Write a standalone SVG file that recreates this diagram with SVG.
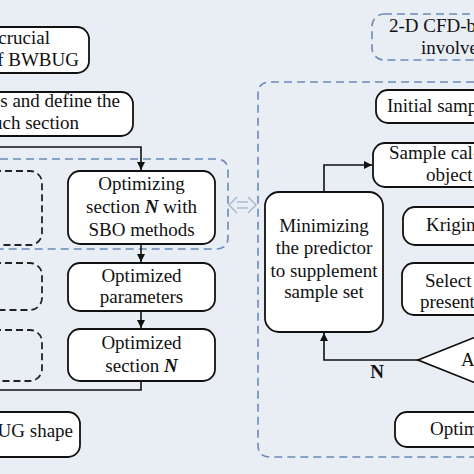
<svg xmlns="http://www.w3.org/2000/svg" width="474" height="474" viewBox="0 0 474 474">
<defs>
<style>
.bg{fill:#e9eef5}
.box{fill:#ffffff;stroke:#111;stroke-width:1.8}
.dbox{fill:none;stroke:#222;stroke-width:1.8;stroke-dasharray:7 4}
.blue{fill:none;stroke:#6a8bb8;stroke-width:1.6;stroke-dasharray:8 5}
.t{font-family:"Liberation Serif","Times New Roman",serif;font-size:19px;fill:#111}
.c{text-anchor:middle}
.e{text-anchor:end}
.line{fill:none;stroke:#111;stroke-width:1.6}
</style>
<marker id="ah" viewBox="0 0 10 10" refX="10" refY="5" markerWidth="8" markerHeight="8" markerUnits="userSpaceOnUse" orient="auto">
<path d="M0,0 L10,5 L0,10 z" fill="#111"/>
</marker>
</defs>
<rect class="bg" x="0" y="0" width="474" height="474"/>

<g id="groups">
<path class="blue" d="M0,159 H216 Q228,159 228,171 V237 Q228,249 216,249 H0"/>
<path class="blue" d="M474,82 H270 Q258,82 258,94 V445 Q258,457 270,457 H474"/>
<rect class="blue" x="372" y="14" width="130" height="46" rx="12"/>
</g>

<g id="connectors">
<path class="line" d="M0,147 H141 V170" marker-end="url(#ah)"/>
<path class="line" d="M141,244 V262" marker-end="url(#ah)"/>
<path class="line" d="M141,311 V328" marker-end="url(#ah)"/>
<path class="line" d="M141,381 V390 H0"/>
<path class="line" d="M324,192 V165 H372" marker-end="url(#ah)"/>
<path class="line" d="M418,360 H324 V333" marker-end="url(#ah)"/>
<text class="t c" x="377" y="378" style="font-weight:bold">N</text>
<path d="M237,202 H248 M237,208 H248 M237,197 L229,205 L237,213 M248,197 L256,205 L248,213" fill="none" stroke="#a9bcd4" stroke-width="1.6"/>
</g>

<g id="n-top1">
<rect class="box" x="-60" y="27" width="149" height="46" rx="12"/>
<text class="t e" x="50" y="44">crucial</text>
<text class="t e" x="79" y="66">f BWBUG</text>
</g>
<g id="n-top2">
<rect class="box" x="-60" y="92" width="193" height="44" rx="12"/>
<text class="t e" x="120" y="107">s and define the</text>
<text class="t e" x="79" y="129">uch section</text>
</g>
<g id="n-dash1"><rect class="dbox" x="-40" y="171" width="82" height="74" rx="12"/></g>
<g id="n-dash2"><rect class="dbox" x="-40" y="263" width="82" height="47" rx="12"/></g>
<g id="n-dash3"><rect class="dbox" x="-40" y="330" width="82" height="51" rx="12"/></g>
<g id="n-opt-sbo">
<rect class="box" x="68" y="171" width="147" height="73" rx="12"/>
<text class="t c" x="141.5" y="190">Optimizing</text>
<text class="t c" x="141.5" y="213">section <tspan style="font-style:italic;font-weight:bold">N</tspan> with</text>
<text class="t c" x="141.5" y="236">SBO methods</text>
</g>
<g id="n-opt-param">
<rect class="box" x="68" y="263" width="147" height="48" rx="12"/>
<text class="t c" x="141.5" y="282">Optimized</text>
<text class="t c" x="141.5" y="303">parameters</text>
</g>
<g id="n-opt-sec">
<rect class="box" x="68" y="329" width="147" height="52" rx="12"/>
<text class="t c" x="141.5" y="349">Optimized</text>
<text class="t c" x="141.5" y="372">section <tspan style="font-style:italic;font-weight:bold">N</tspan></text>
</g>
<g id="n-shape">
<rect class="box" x="-60" y="412" width="140" height="45" rx="12"/>
<text class="t e" x="73" y="437">UG shape</text>
</g>

<g id="n-cfd">
<text class="t" x="389" y="32">2-D CFD-b</text>
<text class="t" x="421" y="54">involve</text>
</g>
<g id="n-initial">
<rect class="box" x="376" y="90" width="140" height="33" rx="12"/>
<text class="t" x="387" y="112">Initial samp</text>
</g>
<g id="n-sample">
<rect class="box" x="373" y="143" width="140" height="44" rx="12"/>
<text class="t" x="389" y="159">Sample cal-</text>
<text class="t" x="426" y="181">object</text>
</g>
<g id="n-min">
<rect class="box" x="265" y="192" width="118" height="140" rx="14"/>
<text class="t c" x="324" y="232">Minimizing</text>
<text class="t c" x="324" y="254">the predictor</text>
<text class="t c" x="324" y="277">to supplement</text>
<text class="t c" x="324" y="298">sample set</text>
</g>
<g id="n-kriging">
<rect class="box" x="403" y="207" width="120" height="38" rx="12"/>
<text class="t" x="426" y="231">Krigin</text>
</g>
<g id="n-select">
<rect class="box" x="402" y="263" width="120" height="52" rx="12"/>
<text class="t" x="425" y="287">Select</text>
<text class="t" x="420" y="308">present</text>
</g>
<g id="n-diamond">
<polygon points="418,360 518,320 618,360 518,400" fill="#fff" stroke="#111" stroke-width="1.8"/>
<text class="t" x="461" y="366">A</text>
</g>
<g id="n-optim">
<rect class="box" x="395" y="412" width="120" height="35" rx="12"/>
<text class="t" x="430" y="435">Optim</text>
</g>
</svg>
